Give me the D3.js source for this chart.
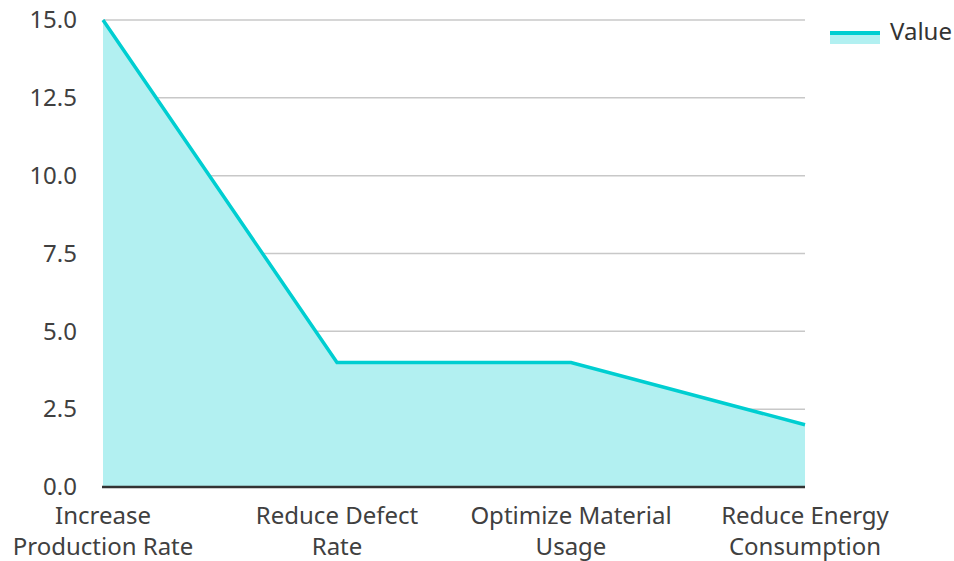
<!DOCTYPE html>
<html>
<head>
<meta charset="utf-8">
<script src="https://cdn.jsdelivr.net/npm/d3@7"></script>
<style>
  body { margin: 0; background: #fff; }
  svg { font-family: "Noto Sans", sans-serif; }
</style>
</head>
<body>
<svg id="chart" width="954" height="561"></svg>
<script>
// data
const categories = [
  ["Increase", "Production Rate"],
  ["Reduce Defect", "Rate"],
  ["Optimize Material", "Usage"],
  ["Reduce Energy", "Consumption"]
];
const values = [15, 4, 4, 2];
const yTicks = [0, 2.5, 5, 7.5, 10, 12.5, 15];
const seriesName = "Value";

const W = 954, H = 561;
const margin = { top: 20, right: 149, bottom: 74, left: 103 };
const lineColor = "#00CED1";
const fillColor = "#B2F0F1";
const fontSize = 24;

const svg = d3.select("#chart");
const g = svg.append("g").attr("transform", `translate(${margin.left},${margin.top})`);
const iw = W - margin.left - margin.right;
const ih = H - margin.top - margin.bottom;

const x = d3.scalePoint().domain(d3.range(categories.length)).range([0, iw]);
const y = d3.scaleLinear().domain([0, 15]).range([ih, 0]);

// gridlines
g.selectAll("line.grid")
  .data(yTicks.filter(d => d > 0))
  .enter().append("line")
  .attr("class", "grid")
  .attr("x1", 0).attr("x2", iw)
  .attr("y1", d => y(d)).attr("y2", d => y(d))
  .attr("stroke", "#c8c8c8").attr("stroke-width", 1.5);

// area + line
const pts = values.map((v, i) => [i, v]);
g.append("path")
  .datum(pts)
  .attr("fill", fillColor)
  .attr("d", d3.area().x(d => x(d[0])).y0(ih).y1(d => y(d[1])));
g.append("path")
  .datum(pts)
  .attr("fill", "none")
  .attr("stroke", lineColor)
  .attr("stroke-width", 3.5)
  .attr("d", d3.line().x(d => x(d[0])).y(d => y(d[1])));

// y axis labels
const yAxis = g.append("g")
  .call(d3.axisLeft(y).tickValues(yTicks).tickFormat(d3.format(".1f")).tickSize(0).tickPadding(26));
yAxis.select(".domain").remove();
yAxis.attr("font-size", fontSize).attr("font-family", "Noto Sans");
yAxis.selectAll("text").attr("fill", "#404040");

// x axis baseline
g.append("line")
  .attr("x1", -1).attr("x2", iw)
  .attr("y1", ih).attr("y2", ih)
  .attr("stroke", "#333").attr("stroke-width", 2.5);

// x labels (two lines)
const xl = g.selectAll("text.xl")
  .data(categories)
  .enter().append("text")
  .attr("class", "xl")
  .attr("text-anchor", "middle")
  .attr("font-size", fontSize)
  .attr("fill", "#404040")
  .attr("transform", (d, i) => `translate(${x(i)},${ih + 37})`);
xl.selectAll("tspan")
  .data(d => d)
  .enter().append("tspan")
  .attr("x", 0)
  .attr("dy", (d, i) => i === 0 ? 0 : 31)
  .text(d => d);

// legend
const lg = svg.append("g").attr("transform", `translate(830,31)`);
lg.append("rect").attr("x", 0).attr("y", 2).attr("width", 50).attr("height", 11).attr("fill", fillColor);
lg.append("line").attr("x1", 0).attr("x2", 50).attr("y1", 2).attr("y2", 2)
  .attr("stroke", lineColor).attr("stroke-width", 4);
lg.append("text").attr("x", 60).attr("y", 1).attr("dy", "0.35em")
  .attr("font-size", fontSize).attr("fill", "#333").text(seriesName);
</script>
</body>
</html>
